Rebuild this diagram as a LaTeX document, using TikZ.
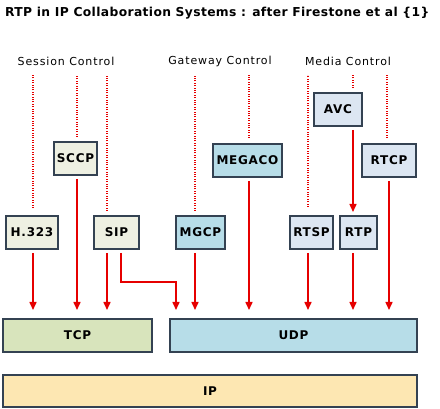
\documentclass[tikz,border=0pt]{standalone}
\usepackage{fontspec}
\setmainfont{DejaVu Sans}
\definecolor{linkred}{RGB}{230, 0, 0}
\definecolor{frame}{RGB}{52, 66, 82}
\definecolor{sessfill}{RGB}{238, 240, 226}
\definecolor{gatefill}{RGB}{183, 221, 232}
\definecolor{mediafill}{RGB}{220, 230, 242}
\definecolor{tcpfill}{RGB}{216, 228, 188}
\definecolor{ipfill}{RGB}{253, 231, 178}
\usetikzlibrary{arrows.meta, calc}

\begin{document}
\begin{tikzpicture}[x=1pt, y=-1pt,
  pbox/.style={draw=frame, line width=1.4pt, minimum height=33pt, inner sep=0pt, outer sep=0pt, font=\bfseries\fontsize{12}{14}\selectfont\addfontfeature{LetterSpace=6}},
  ctl/.style={color=linkred, line width=1.3pt, dash pattern=on 1pt off 1.4pt},
  flow/.style={color=linkred, line width=1.5pt, -{Triangle[width=7pt, length=8pt]}},
  grp/.style={font=\fontsize{11}{13}\selectfont\addfontfeature{LetterSpace=8}}
]
  \useasboundingbox (0,0) rectangle (440,409);

  % title and column headings
  \node[anchor=west, inner sep=0pt, font=\bfseries\fontsize{12.3}{14}\selectfont\addfontfeature{LetterSpace=3}] (title) at (5,13) {RTP in IP Collaboration Systems : after Firestone et al \{1\}};
  \node[grp] (session) at (66,61) {Session Control};
  \node[grp] (gateway) at (220,61) {Gateway Control};
  \node[grp] (media) at (348,61) {Media Control};
  \coordinate (ctltop) at (0,75);

  % protocol boxes
  \node[pbox, fill=sessfill, minimum width=43pt] (sccp) at (75.5,158.5) {SCCP};
  \node[pbox, fill=sessfill, minimum width=52pt] (h323) at (32,232.5) {H.323};
  \node[pbox, fill=sessfill, minimum width=45pt] (sip) at (116.5,232.5) {SIP};
  \node[pbox, fill=gatefill, minimum width=49pt] (mgcp) at (200.5,232.5) {MGCP};
  \node[pbox, fill=gatefill, minimum width=69pt] (megaco) at (247.5,160.5) {MEGACO};
  \node[pbox, fill=mediafill, minimum width=48pt] (avc) at (338,109.5) {AVC};
  \node[pbox, fill=mediafill, minimum width=54pt] (rtcp) at (389,160.5) {RTCP};
  \node[pbox, fill=mediafill, minimum width=43pt] (rtsp) at (311.5,232.5) {RTSP};
  \node[pbox, fill=mediafill, minimum width=37pt] (rtp) at (358.5,232.5) {RTP};

  % transport layers
  \node[pbox, fill=tcpfill, minimum width=149pt] (tcp) at (77.5,335.5) {TCP};
  \node[pbox, fill=gatefill, minimum width=247pt] (udp) at (293.5,335.5) {UDP};
  \node[pbox, fill=ipfill, minimum width=414pt, minimum height=32pt] (ip) at (210,391) {IP};

  % dotted control lines
  \draw[ctl] ([xshift=1pt,yshift=8pt]h323.north) -- ([xshift=1pt]h323.north |- ctltop);
  \draw[ctl] ([xshift=1.5pt,yshift=5pt]sccp.north) -- ([xshift=1.5pt]sccp.north |- ctltop);
  \draw[ctl] ([xshift=-9.5pt,yshift=5pt]sip.north) -- ([xshift=-9.5pt]sip.north |- ctltop);
  \draw[ctl] ([xshift=-5.5pt,yshift=5pt]mgcp.north) -- ([xshift=-5.5pt]mgcp.north |- ctltop);
  \draw[ctl] ([xshift=1.5pt,yshift=6pt]megaco.north) -- ([xshift=1.5pt]megaco.north |- ctltop);
  \draw[ctl] ([xshift=-3.5pt,yshift=9pt]rtsp.north) -- ([xshift=-3.5pt]rtsp.north |- ctltop);
  \draw[ctl] ([xshift=15pt,yshift=5pt]avc.north) -- ([xshift=15pt]avc.north |- ctltop);
  \draw[ctl] ([xshift=-2pt,yshift=6pt]rtcp.north) -- ([xshift=-2pt]rtcp.north |- ctltop);

  % data paths down to the transport layers
  \draw[flow, shorten >=9pt] ([xshift=1pt,yshift=-4pt]h323.south) -- ([xshift=1pt]h323.south |- tcp.north);
  \draw[flow, shorten >=9pt] ([xshift=1.5pt,yshift=-4pt]sccp.south) -- ([xshift=1.5pt]sccp.south |- tcp.north);
  \draw[flow, shorten >=9pt] ([xshift=-9.5pt,yshift=-4pt]sip.south) -- ([xshift=-9.5pt]sip.south |- tcp.north);
  \draw[flow, shorten >=9pt] ([xshift=4.5pt,yshift=-4pt]sip.south) |- ($(udp.north west)+(6,-37)$) -- ([xshift=6pt]udp.north west);
  \draw[flow, shorten >=9pt] ([xshift=-5.5pt,yshift=-4pt]mgcp.south) -- ([xshift=-5.5pt]mgcp.south |- udp.north);
  \draw[flow, shorten >=9pt] ([xshift=1.5pt,yshift=-4pt]megaco.south) -- ([xshift=1.5pt]megaco.south |- udp.north);
  \draw[flow, shorten >=9pt] ([xshift=-3.5pt,yshift=-4pt]rtsp.south) -- ([xshift=-3.5pt]rtsp.south |- udp.north);
  \draw[flow, shorten >=9pt] ([xshift=-5.5pt,yshift=-4pt]rtp.south) -- ([xshift=-5.5pt]rtp.south |- udp.north);
  \draw[flow, shorten >=9pt] ([yshift=-4pt]rtcp.south) -- (rtcp.south |- udp.north);
  \draw[flow, shorten >=4pt] ([xshift=15pt,yshift=-4pt]avc.south) -- ([xshift=15pt]avc.south |- rtp.north);
\end{tikzpicture}
\end{document}
